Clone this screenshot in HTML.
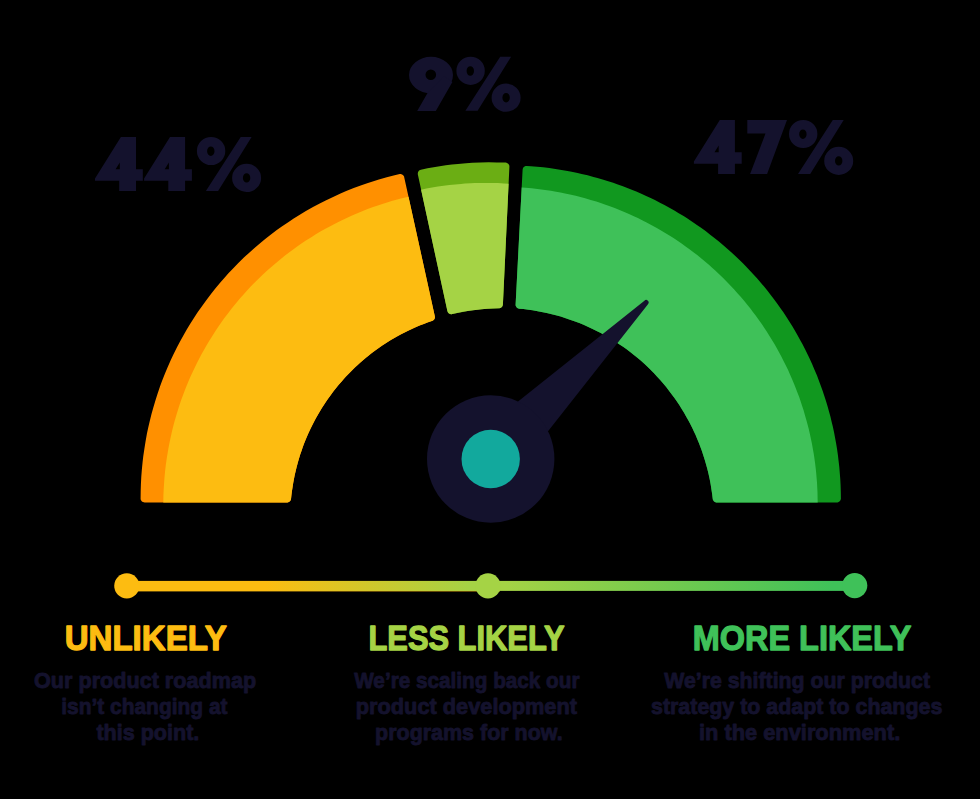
<!DOCTYPE html>
<html lang="en"><head><meta charset="utf-8"><title>Gauge</title>
<style>html,body{margin:0;padding:0;background:#000;}body{width:980px;height:799px;overflow:hidden;font-family:"Liberation Sans",sans-serif;}svg{display:block;}text{font-family:"Liberation Sans",sans-serif;font-weight:bold;}</style></head><body>
<svg width="980" height="799" viewBox="0 0 980 799">
<defs><linearGradient id="tl" gradientUnits="userSpaceOnUse" x1="127" y1="0" x2="855" y2="0"><stop offset="0" stop-color="#FDBC11"/><stop offset="0.19" stop-color="#FDBC11"/><stop offset="0.47" stop-color="#A5D345"/><stop offset="0.52" stop-color="#A5D345"/><stop offset="0.97" stop-color="#3FC159"/><stop offset="1" stop-color="#3FC159"/></linearGradient></defs>
<rect width="980" height="799" fill="#000"/>
<path d="M140.6 498.4L140.6 499.2L140.9 499.9L141.2 500.6L141.7 501.2L142.3 501.7L143.0 502.1L143.8 502.3L144.6 502.4L287.1 502.4L288.1 502.3L288.8 502.0L289.6 501.5L290.2 500.9L290.7 500.1L291.0 499.2L291.5 494.5L292.0 490.7L292.6 486.9L293.2 483.1L293.9 479.3L294.6 475.5L295.5 471.8L296.4 468.1L298.0 461.9L299.1 458.2L300.2 454.5L302.3 448.4L303.6 444.8L305.0 441.2L307.5 435.3L309.1 431.8L310.7 428.3L312.4 424.9L314.2 421.5L316.0 418.1L317.9 414.7L319.8 411.4L321.8 408.1L323.9 404.9L326.0 401.7L328.2 398.5L330.4 395.4L332.7 392.3L335.1 389.3L339.1 384.3L341.7 381.4L344.2 378.5L346.8 375.7L349.5 372.9L352.2 370.2L354.9 367.5L357.8 364.9L360.6 362.3L365.5 358.1L368.5 355.7L371.5 353.3L374.5 351.0L377.7 348.8L382.9 345.1L388.3 341.6L391.6 339.6L394.9 337.7L400.5 334.6L405.1 332.2L408.5 330.5L412.0 328.9L416.7 326.8L420.2 325.3L423.8 323.9L427.4 322.6L432.6 320.7L433.3 320.3L433.9 319.8L434.3 319.2L434.7 318.3L434.9 317.8L434.9 317.2L434.8 316.2L404.2 177.2L404.1 176.6L403.7 175.9L403.4 175.4L402.8 174.9L402.1 174.4L401.4 174.2L400.6 174.0L399.8 174.0L394.6 175.2L386.8 177.3L378.9 179.5L371.1 181.9L367.2 183.2L361.4 185.2L353.7 188.1L346.2 191.1L340.5 193.5L333.1 196.9L325.7 200.4L320.2 203.2L313.0 207.0L305.9 211.0L300.6 214.2L293.7 218.5L288.6 221.9L281.8 226.5L276.8 230.1L270.3 235.0L265.5 238.8L259.2 244.0L254.5 248.0L248.4 253.4L243.9 257.6L238.1 263.3L233.8 267.7L228.2 273.6L224.1 278.2L220.1 282.8L214.9 289.1L211.0 293.9L206.1 300.4L202.5 305.4L197.8 312.1L194.4 317.2L190.1 324.1L186.9 329.3L183.8 334.7L179.9 341.8L177.0 347.2L173.4 354.5L170.8 360.1L167.5 367.6L165.1 373.2L162.1 380.8L160.0 386.6L157.4 394.3L155.5 400.2L153.2 408.0L151.5 413.9L149.6 421.8L148.2 427.8L146.9 433.8L145.5 441.8L144.5 447.9L143.3 456.0L142.6 462.1L141.8 470.2L141.3 476.4L140.9 484.5L140.7 490.6Z" fill="#FF9000"/>
<path d="M287.1 502.4L287.7 502.4L288.2 502.2L288.8 502.0L289.5 501.6L289.9 501.2L290.3 500.8L290.6 500.3L290.9 499.6L291.0 499.0L291.5 494.5L292.0 490.7L292.6 486.9L293.2 483.1L293.9 479.3L294.9 474.3L295.8 470.5L296.7 466.8L297.7 463.1L298.7 459.4L300.2 454.5L301.5 450.9L302.7 447.2L304.1 443.6L305.5 440.1L307.0 436.5L308.5 433.0L310.2 429.5L313.0 423.7L314.8 420.3L316.6 417.0L319.8 411.4L323.2 406.0L325.3 402.8L327.5 399.6L331.2 394.4L333.5 391.3L335.9 388.3L338.3 385.3L340.8 382.4L343.3 379.5L345.9 376.6L350.4 372.0L353.1 369.3L355.9 366.6L358.7 364.0L361.6 361.5L364.5 359.0L367.5 356.5L370.5 354.1L373.5 351.8L378.7 348.0L381.9 345.8L385.1 343.7L390.5 340.3L396.0 337.0L401.6 334.0L405.1 332.2L409.7 330.0L413.2 328.3L416.7 326.8L420.2 325.3L423.8 323.9L427.4 322.6L432.6 320.7L433.3 320.3L433.9 319.8L434.3 319.2L434.7 318.5L434.8 317.9L434.9 317.4L434.9 316.8L434.8 316.2L408.5 196.7L400.9 198.6L397.2 199.5L391.6 201.1L387.9 202.2L382.3 204.0L378.6 205.2L373.1 207.1L367.6 209.1L364.0 210.5L360.4 211.9L355.0 214.2L351.5 215.7L346.2 218.2L340.9 220.7L337.4 222.4L334.0 224.2L328.8 226.9L325.4 228.8L320.4 231.6L315.4 234.6L312.1 236.7L305.5 240.8L300.7 244.1L297.5 246.3L292.8 249.7L289.7 252.0L285.0 255.6L282.0 258.0L277.5 261.7L274.5 264.2L271.6 266.7L267.2 270.6L262.9 274.5L260.1 277.2L256.0 281.3L253.2 284.0L250.5 286.8L246.6 291.1L244.0 294.0L240.1 298.3L236.4 302.8L233.9 305.8L231.5 308.8L227.9 313.4L224.4 318.1L222.1 321.2L218.8 326.0L216.6 329.2L214.5 332.5L211.4 337.4L209.3 340.7L206.3 345.7L203.5 350.7L201.6 354.1L199.8 357.6L197.1 362.7L195.4 366.2L192.9 371.5L190.4 376.8L188.9 380.3L185.9 387.5L183.8 392.9L181.1 400.2L178.7 407.6L176.4 415.0L174.2 422.5L172.3 430.0L170.6 437.6L169.4 443.3L168.3 449.0L167.0 456.7L165.9 464.3L165.0 472.1L164.3 479.8L163.8 487.5L163.4 495.3L163.3 502.4Z" fill="#FDBC11"/>
<path d="M420.9 169.7L420.2 169.9L419.5 170.3L418.9 170.8L418.4 171.4L418.1 171.9L417.9 172.7L417.8 173.5L417.8 174.2L447.4 311.1L447.6 311.6L447.8 312.2L448.2 312.7L448.6 313.1L449.0 313.5L449.5 313.8L450.1 314.0L450.7 314.2L451.7 314.2L452.2 314.1L457.6 312.9L462.7 311.9L469.1 310.8L474.3 310.1L480.7 309.3L487.2 308.8L492.4 308.5L499.3 308.3L500.2 308.1L500.9 307.7L501.7 307.1L502.3 306.4L502.7 305.5L502.9 304.5L509.4 166.8L509.4 166.2L509.3 165.6L509.1 165.1L508.8 164.6L508.2 163.8L507.4 163.2L506.5 162.8L505.6 162.6L496.9 162.4L488.7 162.3L480.4 162.5L472.3 162.8L466.1 163.2L458.0 163.9L451.9 164.6L445.8 165.3L439.7 166.2L433.6 167.2L427.5 168.3Z" fill="#6BAE14"/>
<path d="M447.4 311.1L447.6 311.6L447.9 312.3L448.4 313.0L449.0 313.5L449.5 313.8L450.3 314.1L451.1 314.2L451.7 314.2L452.2 314.1L458.9 312.6L464.0 311.6L469.1 310.8L475.6 309.9L482.0 309.2L487.2 308.8L492.4 308.5L498.9 308.3L499.5 308.3L500.4 308.0L501.3 307.5L502.0 306.8L502.5 306.0L502.7 305.3L502.9 304.5L508.6 183.7L503.8 183.4L498.0 183.1L492.1 183.0L486.3 182.9L480.5 183.0L474.6 183.1L470.7 183.3L464.9 183.6L461.0 183.9L455.2 184.4L449.4 185.1L443.6 185.8L437.9 186.6L432.1 187.6L426.4 188.6L421.1 189.7Z" fill="#A5D345"/>
<path d="M515.6 304.5L515.6 305.1L515.7 305.7L516.0 306.4L516.3 306.9L516.8 307.5L517.2 307.9L517.9 308.3L518.5 308.5L519.0 308.7L523.4 309.1L528.7 309.7L532.6 310.3L537.7 311.2L541.6 311.9L546.7 313.0L551.9 314.2L556.9 315.6L560.7 316.6L565.7 318.2L570.7 319.9L574.4 321.2L579.3 323.1L583.0 324.6L587.8 326.7L592.6 328.9L596.1 330.7L600.8 333.1L604.2 335.0L607.6 336.9L611.0 338.9L615.5 341.7L618.8 343.9L623.1 346.8L626.3 349.1L630.5 352.3L633.6 354.7L637.7 358.1L640.7 360.6L644.6 364.1L647.5 366.8L650.3 369.6L654.0 373.3L656.7 376.2L660.2 380.1L662.8 383.0L666.2 387.1L668.6 390.2L671.8 394.4L674.1 397.5L676.4 400.8L679.3 405.1L681.4 408.5L684.2 412.9L686.1 416.4L688.0 419.8L689.9 423.3L692.3 428.0L693.9 431.5L695.6 435.1L697.1 438.7L699.1 443.6L700.5 447.3L701.9 451.0L703.1 454.7L704.7 459.7L705.8 463.5L707.2 468.6L708.5 473.7L709.6 478.8L710.6 484.0L711.4 489.2L712.0 493.1L712.7 498.8L712.8 499.4L713.1 500.1L713.5 500.8L714.0 501.4L714.6 501.8L715.5 502.2L716.1 502.4L716.7 502.4L836.9 502.4L837.5 502.4L838.1 502.2L839.0 501.8L839.7 501.2L840.3 500.4L840.7 499.6L840.9 499.0L840.9 498.4L840.8 491.7L840.6 485.5L840.3 479.4L839.8 473.2L839.3 467.1L838.6 461.0L837.9 454.9L837.0 448.8L836.0 442.7L835.2 438.6L834.1 432.6L832.8 426.6L831.8 422.6L830.4 416.6L828.8 410.7L827.7 406.7L825.9 400.8L824.0 395.0L822.7 391.0L820.6 385.3L819.2 381.4L817.0 375.6L814.6 369.9L812.2 364.3L809.7 358.7L807.9 355.0L805.2 349.4L802.4 344.0L800.4 340.4L797.4 335.0L794.4 329.7L792.2 326.1L789.0 320.9L786.8 317.4L783.4 312.3L781.0 308.9L777.5 303.9L773.8 298.9L771.3 295.7L767.5 290.8L764.9 287.6L761.0 282.9L757.0 278.3L754.2 275.2L750.0 270.7L745.8 266.2L742.9 263.3L738.5 259.0L734.0 254.8L731.0 252.0L726.4 247.9L723.3 245.2L718.6 241.2L713.8 237.4L710.5 234.9L705.6 231.1L700.7 227.5L697.3 225.2L692.2 221.7L687.1 218.3L683.6 216.1L678.3 212.9L674.8 210.8L669.4 207.8L664.0 204.8L660.4 202.9L654.9 200.1L651.2 198.3L645.6 195.7L641.9 194.0L636.3 191.6L632.4 190.0L626.7 187.7L622.9 186.3L617.1 184.2L613.2 182.8L607.4 180.9L603.4 179.7L597.5 178.0L593.5 176.9L587.6 175.3L581.6 173.9L577.6 173.0L571.6 171.7L567.5 171.0L561.5 169.9L555.4 168.9L549.3 168.1L543.2 167.3L537.1 166.7L530.9 166.2L526.7 165.9L526.1 166.0L525.5 166.1L524.6 166.5L523.8 167.1L523.2 167.8L522.8 168.7L522.6 169.7Z" fill="#11981F"/>
<path d="M515.6 304.7L515.6 305.3L515.8 306.0L516.1 306.6L516.4 307.1L516.8 307.5L517.2 307.9L517.9 308.3L518.5 308.5L519.0 308.7L523.4 309.1L528.7 309.7L532.6 310.3L537.7 311.2L541.6 311.9L546.7 313.0L551.9 314.2L556.9 315.6L560.7 316.6L565.7 318.2L570.7 319.9L574.4 321.2L579.3 323.1L583.0 324.6L587.8 326.7L592.6 328.9L596.1 330.7L600.8 333.1L604.2 335.0L607.6 336.9L611.0 338.9L615.5 341.7L618.8 343.9L623.1 346.8L626.3 349.1L630.5 352.3L633.6 354.7L637.7 358.1L640.7 360.6L644.6 364.1L647.5 366.8L650.3 369.6L654.0 373.3L656.7 376.2L660.2 380.1L662.8 383.0L666.2 387.1L668.6 390.2L671.8 394.4L674.1 397.5L676.4 400.8L679.3 405.1L681.4 408.5L684.2 412.9L686.1 416.4L688.0 419.8L689.9 423.3L692.3 428.0L693.9 431.5L695.6 435.1L697.1 438.7L699.1 443.6L700.5 447.3L701.9 451.0L703.1 454.7L704.7 459.7L705.8 463.5L707.2 468.6L708.5 473.7L709.6 478.8L710.6 484.0L711.4 489.2L712.2 494.4L712.8 499.2L713.0 500.0L713.4 500.6L713.9 501.2L714.5 501.7L715.0 502.0L715.5 502.2L716.1 502.4L716.7 502.4L817.7 502.4L817.6 498.2L817.5 492.3L817.3 488.4L817.0 482.6L816.5 476.8L816.2 472.9L815.8 469.0L815.1 463.2L814.3 457.5L813.7 453.6L813.0 449.8L812.0 444.0L810.8 438.3L810.0 434.5L808.7 428.8L807.7 425.0L806.7 421.3L805.1 415.7L803.5 410.1L802.3 406.4L801.1 402.7L799.2 397.1L797.1 391.7L795.7 388.0L794.3 384.4L792.0 379.0L789.7 373.7L788.1 370.1L785.6 364.9L783.8 361.4L781.2 356.2L779.3 352.8L777.4 349.3L774.6 344.3L772.6 340.9L769.5 335.9L766.4 331.0L764.2 327.8L762.1 324.5L758.7 319.8L755.3 315.0L752.9 311.9L750.6 308.8L746.9 304.3L744.5 301.3L740.7 296.8L738.1 293.9L734.2 289.5L731.6 286.7L727.5 282.5L723.4 278.3L719.2 274.3L715.0 270.3L712.1 267.7L709.2 265.1L704.7 261.3L700.2 257.6L697.2 255.1L694.1 252.7L689.5 249.2L686.3 246.9L681.6 243.5L678.3 241.3L673.5 238.1L668.6 235.0L665.2 232.9L661.9 230.9L656.8 228.0L651.7 225.2L646.6 222.4L643.1 220.7L637.9 218.1L634.4 216.4L629.0 214.0L625.5 212.5L620.1 210.2L614.7 208.1L609.2 206.0L605.5 204.7L600.0 202.8L596.3 201.6L590.7 199.9L585.1 198.3L579.5 196.8L575.7 195.8L570.0 194.5L566.2 193.7L560.5 192.5L554.7 191.5L550.9 190.8L547.0 190.2L541.3 189.4L535.5 188.7L531.6 188.3L525.8 187.8L521.7 187.5Z" fill="#3FC159"/>
<path d="M647.97 304.16L523.04 462.93L486.54 426.69L644.43 300.64A2.5 2.5 0 0 1 647.97 304.16Z" fill="#14122D"/>
<circle cx="490.7" cy="459.0" r="63.7" fill="#14122D"/>
<circle cx="490.7" cy="459.0" r="29.2" fill="#12A99D"/>
<rect x="127" y="581.4" width="373" height="10" fill="#FDBC11"/>
<rect x="127" y="580.9" width="728" height="10" fill="url(#tl)"/>
<circle cx="126.8" cy="585.8" r="12.6" fill="#FDBC11"/>
<circle cx="488" cy="585.8" r="12.6" fill="#A5D345"/>
<circle cx="854.7" cy="585.6" r="12.6" fill="#3FC159"/>
<text x="64.63" y="649.95" font-size="35.7" fill="#FDBC11" stroke="#FDBC11" stroke-width="1.3" stroke-linejoin="round" textLength="162.3" lengthAdjust="spacingAndGlyphs">UNLIKELY</text>
<text x="368.48" y="650.05" font-size="35.7" fill="#A5D345" stroke="#A5D345" stroke-width="1.3" stroke-linejoin="round" textLength="196.0" lengthAdjust="spacingAndGlyphs">LESS LIKELY</text>
<text x="692.86" y="650.35" font-size="35.7" fill="#3FC159" stroke="#3FC159" stroke-width="1.3" stroke-linejoin="round" textLength="218.5" lengthAdjust="spacingAndGlyphs">MORE LIKELY</text>
<text x="34.03" y="687.75" font-size="21.8" fill="#14122D" stroke="#14122D" stroke-width="0.9" stroke-linejoin="round" textLength="222.1" lengthAdjust="spacingAndGlyphs">Our product roadmap</text>
<text x="61.23" y="713.55" font-size="21.8" fill="#14122D" stroke="#14122D" stroke-width="0.9" stroke-linejoin="round" textLength="166.3" lengthAdjust="spacingAndGlyphs">isn’t changing at</text>
<text x="96.41" y="739.75" font-size="21.8" fill="#14122D" stroke="#14122D" stroke-width="0.9" stroke-linejoin="round" textLength="102.9" lengthAdjust="spacingAndGlyphs">this point.</text>
<text x="354.19" y="688.35" font-size="21.8" fill="#14122D" stroke="#14122D" stroke-width="0.9" stroke-linejoin="round" textLength="225.3" lengthAdjust="spacingAndGlyphs">We’re scaling back our</text>
<text x="355.79" y="714.15" font-size="21.8" fill="#14122D" stroke="#14122D" stroke-width="0.9" stroke-linejoin="round" textLength="221.2" lengthAdjust="spacingAndGlyphs">product development</text>
<text x="375.11" y="740.05" font-size="21.8" fill="#14122D" stroke="#14122D" stroke-width="0.9" stroke-linejoin="round" textLength="187.5" lengthAdjust="spacingAndGlyphs">programs for now.</text>
<text x="664.22" y="688.35" font-size="21.8" fill="#14122D" stroke="#14122D" stroke-width="0.9" stroke-linejoin="round" textLength="265.8" lengthAdjust="spacingAndGlyphs">We’re shifting our product</text>
<text x="651.01" y="714.15" font-size="21.8" fill="#14122D" stroke="#14122D" stroke-width="0.9" stroke-linejoin="round" textLength="291.3" lengthAdjust="spacingAndGlyphs">strategy to adapt to changes</text>
<text x="698.96" y="740.05" font-size="21.8" fill="#14122D" stroke="#14122D" stroke-width="0.9" stroke-linejoin="round" textLength="201.3" lengthAdjust="spacingAndGlyphs">in the environment.</text>
<path d="M120.9 137.0L136.0 137.0L136.0 169.3L142.8 169.3L142.8 180.7L136.0 180.7L136.0 191.0L119.2 191.0L119.2 180.7L95.0 180.7L95.0 178.4ZM119.8 162.6L119.8 169.3L115.6 169.3ZM170.0 137.0L185.1 137.0L185.1 169.3L191.9 169.3L191.9 180.7L185.1 180.7L185.1 191.0L168.3 191.0L168.3 180.7L144.1 180.7L144.1 178.4ZM168.9 162.6L168.9 169.3L164.7 169.3ZM196.9 151.0a14.2 14.1 0 1 0 28.4 0a14.2 14.1 0 1 0 -28.4 0ZM207.1 151.2a3.7 4.8 0 1 0 7.4 0a3.7 4.8 0 1 0 -7.4 0ZM232.1 177.9a14.5 14.1 0 1 0 29.0 0a14.5 14.1 0 1 0 -29.0 0ZM242.9 177.9a3.7 4.7 0 1 0 7.4 0a3.7 4.7 0 1 0 -7.4 0ZM240.7 136.9L251.6 136.9L218.1 190.9L205.9 190.9ZM409.0 75.1a22 18.3 0 1 0 44.0 0a22 18.3 0 1 0 -44.0 0ZM425.5 74.8a5.3 5.3 0 1 0 10.6 0a5.3 5.3 0 1 0 -10.6 0ZM456.4 70.8a14.2 14.1 0 1 0 28.4 0a14.2 14.1 0 1 0 -28.4 0ZM466.6 71.0a3.7 4.8 0 1 0 7.4 0a3.7 4.8 0 1 0 -7.4 0ZM491.6 97.7a14.5 14.1 0 1 0 29.0 0a14.5 14.1 0 1 0 -29.0 0ZM502.4 97.7a3.7 4.7 0 1 0 7.4 0a3.7 4.7 0 1 0 -7.4 0ZM500.2 56.7L511.1 56.7L477.6 110.7L465.4 110.7ZM719.8 120.0L734.9 120.0L734.9 152.3L741.7 152.3L741.7 163.7L734.9 163.7L734.9 174.0L718.1 174.0L718.1 163.7L693.9 163.7L693.9 161.4ZM718.7 145.6L718.7 152.3L714.5 152.3ZM789.0 134.0a14.2 14.1 0 1 0 28.4 0a14.2 14.1 0 1 0 -28.4 0ZM799.2 134.2a3.7 4.8 0 1 0 7.4 0a3.7 4.8 0 1 0 -7.4 0ZM824.2 160.9a14.5 14.1 0 1 0 29.0 0a14.5 14.1 0 1 0 -29.0 0ZM835.0 160.9a3.7 4.7 0 1 0 7.4 0a3.7 4.7 0 1 0 -7.4 0ZM832.8 119.9L843.7 119.9L810.2 173.9L798.0 173.9Z" fill="#14122D" fill-rule="evenodd"/>
<path d="M417.2 110.9L435.8 110.9L452.4 82L444 76L427.4 93.2ZM747.3 120.1L787.0 120.1L767.1 174.0L750.1 174.0L765.5 133.6L747.3 133.6Z" fill="#14122D"/>
</svg></body></html>
